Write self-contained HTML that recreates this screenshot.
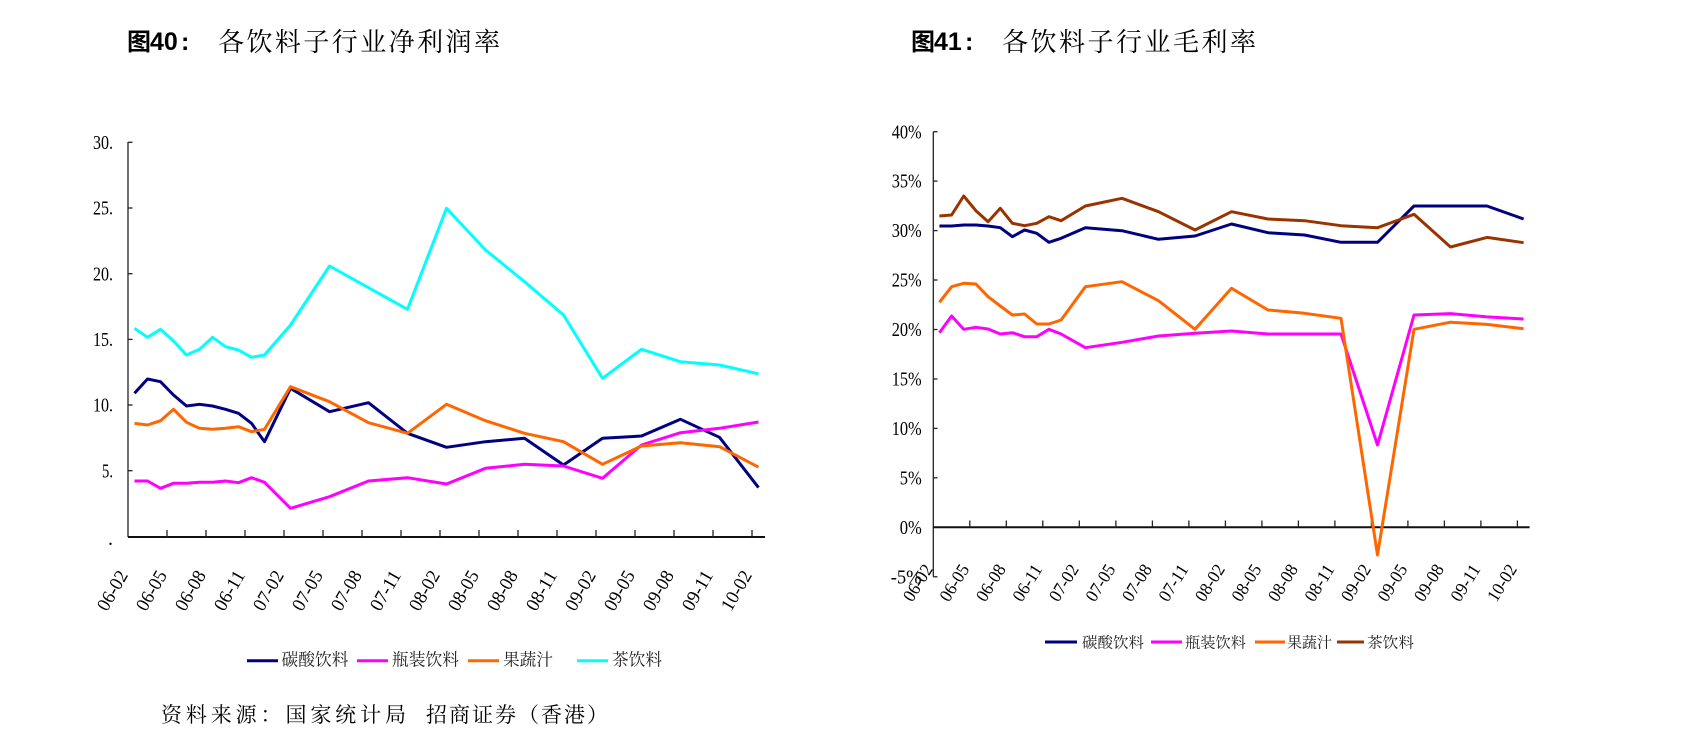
<!DOCTYPE html>
<html>
<head>
<meta charset="utf-8">
<style>
  html,body{margin:0;padding:0;background:#fff;}
  svg{display:block;}
  .ax{font-family:"Liberation Serif","Noto Serif CJK SC",serif;font-size:20px;fill:#000;}
  .xl{font-family:"Liberation Serif","Noto Serif CJK SC",serif;fill:#000;}
  .lg{font-family:"Liberation Serif","Noto Serif CJK SC",serif;fill:#222;}
</style>
</head>
<body>
<svg width="1684" height="748" viewBox="0 0 1684 748" xmlns="http://www.w3.org/2000/svg">
<rect x="0" y="0" width="1684" height="748" fill="#fff"/>

<!-- Titles -->
<text x="127" y="50" font-family="'Noto Sans CJK SC',sans-serif" font-weight="bold" font-size="24">图</text>
<text x="150" y="50" font-family="'Liberation Sans',sans-serif" font-weight="bold" font-size="25">40</text>
<text x="181" y="50" font-family="'Liberation Sans',sans-serif" font-weight="bold" font-size="25">:</text>
<text x="218" y="51" font-family="'Liberation Serif','Noto Serif CJK SC',serif" font-size="26" textLength="282" lengthAdjust="spacing">各饮料子行业净利润率</text>

<text x="911" y="50" font-family="'Noto Sans CJK SC',sans-serif" font-weight="bold" font-size="24">图</text>
<text x="934" y="50" font-family="'Liberation Sans',sans-serif" font-weight="bold" font-size="25">41</text>
<text x="965" y="50" font-family="'Liberation Sans',sans-serif" font-weight="bold" font-size="25">:</text>
<text x="1002" y="51" font-family="'Liberation Serif','Noto Serif CJK SC',serif" font-size="26" textLength="254" lengthAdjust="spacing">各饮料子行业毛利率</text>

<!-- ========== LEFT CHART ========== -->
<line x1="128" y1="142" x2="128" y2="537" stroke="#222" stroke-width="1.3"/>
<g stroke="#222" stroke-width="1.3">
  <line x1="128" y1="142.3" x2="132.5" y2="142.3"/>
  <line x1="128" y1="208" x2="132.5" y2="208"/>
  <line x1="128" y1="273.7" x2="132.5" y2="273.7"/>
  <line x1="128" y1="339.4" x2="132.5" y2="339.4"/>
  <line x1="128" y1="405" x2="132.5" y2="405"/>
  <line x1="128" y1="470.7" x2="132.5" y2="470.7"/>
</g>
<g class="ax" text-anchor="end">
  <text x="113" y="149" textLength="20" lengthAdjust="spacingAndGlyphs">30.</text>
  <text x="113" y="214.6" textLength="20" lengthAdjust="spacingAndGlyphs">25.</text>
  <text x="113" y="280.3" textLength="20" lengthAdjust="spacingAndGlyphs">20.</text>
  <text x="113" y="346" textLength="20" lengthAdjust="spacingAndGlyphs">15.</text>
  <text x="113" y="411.6" textLength="20" lengthAdjust="spacingAndGlyphs">10.</text>
  <text x="113" y="477.3" textLength="11" lengthAdjust="spacingAndGlyphs">5.</text>
  <text x="113" y="545">.</text>
</g>
<line x1="128" y1="537" x2="765" y2="537" stroke="#111" stroke-width="2"/>
<g stroke="#222" stroke-width="1.3">
  <line x1="167" y1="530" x2="167" y2="537"/><line x1="206" y1="530" x2="206" y2="537"/>
  <line x1="245" y1="530" x2="245" y2="537"/><line x1="284" y1="530" x2="284" y2="537"/>
  <line x1="323" y1="530" x2="323" y2="537"/><line x1="362" y1="530" x2="362" y2="537"/>
  <line x1="401" y1="530" x2="401" y2="537"/><line x1="440" y1="530" x2="440" y2="537"/>
  <line x1="479" y1="530" x2="479" y2="537"/><line x1="518" y1="530" x2="518" y2="537"/>
  <line x1="557" y1="530" x2="557" y2="537"/><line x1="596" y1="530" x2="596" y2="537"/>
  <line x1="635" y1="530" x2="635" y2="537"/><line x1="674" y1="530" x2="674" y2="537"/>
  <line x1="713" y1="530" x2="713" y2="537"/><line x1="752" y1="530" x2="752" y2="537"/>
</g>
<g class="xl" font-size="19" text-anchor="end">
  <text x="128.5" y="575" transform="rotate(-60 128.5 575)" textLength="43" lengthAdjust="spacingAndGlyphs">06-02</text>
  <text x="167.5" y="575" transform="rotate(-60 167.5 575)" textLength="43" lengthAdjust="spacingAndGlyphs">06-05</text>
  <text x="206.5" y="575" transform="rotate(-60 206.5 575)" textLength="43" lengthAdjust="spacingAndGlyphs">06-08</text>
  <text x="245.5" y="575" transform="rotate(-60 245.5 575)" textLength="43" lengthAdjust="spacingAndGlyphs">06-11</text>
  <text x="284.5" y="575" transform="rotate(-60 284.5 575)" textLength="43" lengthAdjust="spacingAndGlyphs">07-02</text>
  <text x="323.5" y="575" transform="rotate(-60 323.5 575)" textLength="43" lengthAdjust="spacingAndGlyphs">07-05</text>
  <text x="362.5" y="575" transform="rotate(-60 362.5 575)" textLength="43" lengthAdjust="spacingAndGlyphs">07-08</text>
  <text x="401.5" y="575" transform="rotate(-60 401.5 575)" textLength="43" lengthAdjust="spacingAndGlyphs">07-11</text>
  <text x="440.5" y="575" transform="rotate(-60 440.5 575)" textLength="43" lengthAdjust="spacingAndGlyphs">08-02</text>
  <text x="479.5" y="575" transform="rotate(-60 479.5 575)" textLength="43" lengthAdjust="spacingAndGlyphs">08-05</text>
  <text x="518.5" y="575" transform="rotate(-60 518.5 575)" textLength="43" lengthAdjust="spacingAndGlyphs">08-08</text>
  <text x="557.5" y="575" transform="rotate(-60 557.5 575)" textLength="43" lengthAdjust="spacingAndGlyphs">08-11</text>
  <text x="596.5" y="575" transform="rotate(-60 596.5 575)" textLength="43" lengthAdjust="spacingAndGlyphs">09-02</text>
  <text x="635.5" y="575" transform="rotate(-60 635.5 575)" textLength="43" lengthAdjust="spacingAndGlyphs">09-05</text>
  <text x="674.5" y="575" transform="rotate(-60 674.5 575)" textLength="43" lengthAdjust="spacingAndGlyphs">09-08</text>
  <text x="713.5" y="575" transform="rotate(-60 713.5 575)" textLength="43" lengthAdjust="spacingAndGlyphs">09-11</text>
  <text x="752.5" y="575" transform="rotate(-60 752.5 575)" textLength="43" lengthAdjust="spacingAndGlyphs">10-02</text>
</g>
<g fill="none" stroke-width="3" stroke-linejoin="round" stroke-linecap="butt">
  <polyline stroke="#000080" points="134.5,393.3 147.5,379 160.5,381.7 173.5,395 186.5,406 199.5,404.3 212.5,406 225.5,409.3 238.5,413.3 251.5,423.3 264.5,441.7 290.5,388.3 329.5,411.7 368.5,402.7 407.5,433.3 446.5,447.3 485.5,441.7 524.5,438.3 563.5,465 602.5,438.3 641.5,436 680.5,419.3 719.5,437.3 758.5,487.6"/>
  <polyline stroke="#FF00FF" points="134.5,481 147.5,481 160.5,488.3 173.5,483.3 186.5,483.3 199.5,482.3 212.5,482.3 225.5,481 238.5,482.7 251.5,477.7 264.5,482.3 290.5,508.3 329.5,496.7 368.5,481 407.5,477.7 446.5,484 485.5,468.3 524.5,464.3 563.5,466 602.5,478.3 641.5,445 680.5,432.7 719.5,428.3 758.5,422"/>
  <polyline stroke="#FF6600" points="134.5,423.3 147.5,425 160.5,420.7 173.5,409.3 186.5,422.3 199.5,428.3 212.5,429.3 225.5,428.3 238.5,426.7 251.5,431.7 264.5,429.3 290.5,386.7 329.5,401.7 368.5,422.7 407.5,433.3 446.5,404.3 485.5,420.7 524.5,433.3 563.5,441.7 602.5,464.3 641.5,446 680.5,442.7 719.5,446.7 758.5,467.2"/>
  <polyline stroke="#00FFFF" points="134.5,328.3 147.5,337.3 160.5,329.3 173.5,341 186.5,355 199.5,349.3 212.5,337.3 225.5,346.7 238.5,350 251.5,357.3 264.5,355 290.5,325 329.5,266 368.5,287.7 407.5,309.3 446.5,208.3 485.5,250 524.5,281.7 563.5,315 602.5,378.3 641.5,349.3 680.5,361.7 719.5,365 758.5,373.8"/>
</g>
<g stroke-width="3">
  <line x1="247" y1="660.7" x2="278" y2="660.7" stroke="#000080"/>
  <line x1="357" y1="660.7" x2="388" y2="660.7" stroke="#FF00FF"/>
  <line x1="468" y1="660.7" x2="499" y2="660.7" stroke="#FF6600"/>
  <line x1="577" y1="660.7" x2="608" y2="660.7" stroke="#00FFFF"/>
</g>
<g class="lg" font-size="17">
  <text x="281.5" y="665.5" textLength="67" lengthAdjust="spacingAndGlyphs">碳酸饮料</text>
  <text x="392" y="665.5" textLength="67" lengthAdjust="spacingAndGlyphs">瓶装饮料</text>
  <text x="503" y="665.5" textLength="50" lengthAdjust="spacingAndGlyphs">果蔬汁</text>
  <text x="612" y="665.5" textLength="50" lengthAdjust="spacingAndGlyphs">茶饮料</text>
</g>

<!-- source -->
<text x="161" y="722" font-family="'Liberation Serif','Noto Serif CJK SC',serif" font-size="21" fill="#000" textLength="245" lengthAdjust="spacing">资料来源：国家统计局</text>
<text x="426" y="722" font-family="'Liberation Serif','Noto Serif CJK SC',serif" font-size="21" fill="#000" textLength="182" lengthAdjust="spacing">招商证券（香港）</text>

<!-- ========== RIGHT CHART ========== -->
<line x1="933.3" y1="131.7" x2="933.3" y2="576.8" stroke="#222" stroke-width="1.3"/>
<g stroke="#222" stroke-width="1.3">
  <line x1="933.3" y1="131.7" x2="937.5" y2="131.7"/>
  <line x1="933.3" y1="181.1" x2="937.5" y2="181.1"/>
  <line x1="933.3" y1="230.6" x2="937.5" y2="230.6"/>
  <line x1="933.3" y1="280" x2="937.5" y2="280"/>
  <line x1="933.3" y1="329.5" x2="937.5" y2="329.5"/>
  <line x1="933.3" y1="379" x2="937.5" y2="379"/>
  <line x1="933.3" y1="428.4" x2="937.5" y2="428.4"/>
  <line x1="933.3" y1="477.8" x2="937.5" y2="477.8"/>
  <line x1="933.3" y1="576.8" x2="937.5" y2="576.8"/>
</g>
<g class="ax" text-anchor="end">
  <text x="921.7" y="138.3" textLength="30" lengthAdjust="spacingAndGlyphs">40%</text>
  <text x="921.7" y="187.7" textLength="30" lengthAdjust="spacingAndGlyphs">35%</text>
  <text x="921.7" y="237.2" textLength="30" lengthAdjust="spacingAndGlyphs">30%</text>
  <text x="921.7" y="286.6" textLength="30" lengthAdjust="spacingAndGlyphs">25%</text>
  <text x="921.7" y="336.1" textLength="30" lengthAdjust="spacingAndGlyphs">20%</text>
  <text x="921.7" y="385.6" textLength="30" lengthAdjust="spacingAndGlyphs">15%</text>
  <text x="921.7" y="435" textLength="30" lengthAdjust="spacingAndGlyphs">10%</text>
  <text x="921.7" y="484.4" textLength="22" lengthAdjust="spacingAndGlyphs">5%</text>
  <text x="921.7" y="533.9" textLength="22" lengthAdjust="spacingAndGlyphs">0%</text>
  <text x="921.7" y="583.4" textLength="31" lengthAdjust="spacingAndGlyphs">-5%</text>
</g>
<line x1="933.3" y1="527.3" x2="1529.6" y2="527.3" stroke="#111" stroke-width="2"/>
<g stroke="#222" stroke-width="1.3">
  <line x1="969.8" y1="520.5" x2="969.8" y2="527.3"/><line x1="1006.3" y1="520.5" x2="1006.3" y2="527.3"/>
  <line x1="1042.8" y1="520.5" x2="1042.8" y2="527.3"/><line x1="1079.3" y1="520.5" x2="1079.3" y2="527.3"/>
  <line x1="1115.9" y1="520.5" x2="1115.9" y2="527.3"/><line x1="1152.4" y1="520.5" x2="1152.4" y2="527.3"/>
  <line x1="1188.9" y1="520.5" x2="1188.9" y2="527.3"/><line x1="1225.4" y1="520.5" x2="1225.4" y2="527.3"/>
  <line x1="1261.9" y1="520.5" x2="1261.9" y2="527.3"/><line x1="1298.4" y1="520.5" x2="1298.4" y2="527.3"/>
  <line x1="1334.9" y1="520.5" x2="1334.9" y2="527.3"/><line x1="1371.4" y1="520.5" x2="1371.4" y2="527.3"/>
  <line x1="1407.9" y1="520.5" x2="1407.9" y2="527.3"/><line x1="1444.4" y1="520.5" x2="1444.4" y2="527.3"/>
  <line x1="1480.9" y1="520.5" x2="1480.9" y2="527.3"/><line x1="1517.4" y1="520.5" x2="1517.4" y2="527.3"/>
</g>
<g class="xl" font-size="18" text-anchor="end">
  <text x="933.4" y="569" transform="rotate(-58 933.4 569)" textLength="40" lengthAdjust="spacingAndGlyphs">06-02</text>
  <text x="969.9" y="569" transform="rotate(-58 969.9 569)" textLength="40" lengthAdjust="spacingAndGlyphs">06-05</text>
  <text x="1006.4" y="569" transform="rotate(-58 1006.4 569)" textLength="40" lengthAdjust="spacingAndGlyphs">06-08</text>
  <text x="1042.9" y="569" transform="rotate(-58 1042.9 569)" textLength="40" lengthAdjust="spacingAndGlyphs">06-11</text>
  <text x="1079.4" y="569" transform="rotate(-58 1079.4 569)" textLength="40" lengthAdjust="spacingAndGlyphs">07-02</text>
  <text x="1116" y="569" transform="rotate(-58 1116 569)" textLength="40" lengthAdjust="spacingAndGlyphs">07-05</text>
  <text x="1152.5" y="569" transform="rotate(-58 1152.5 569)" textLength="40" lengthAdjust="spacingAndGlyphs">07-08</text>
  <text x="1189" y="569" transform="rotate(-58 1189 569)" textLength="40" lengthAdjust="spacingAndGlyphs">07-11</text>
  <text x="1225.5" y="569" transform="rotate(-58 1225.5 569)" textLength="40" lengthAdjust="spacingAndGlyphs">08-02</text>
  <text x="1262" y="569" transform="rotate(-58 1262 569)" textLength="40" lengthAdjust="spacingAndGlyphs">08-05</text>
  <text x="1298.5" y="569" transform="rotate(-58 1298.5 569)" textLength="40" lengthAdjust="spacingAndGlyphs">08-08</text>
  <text x="1335" y="569" transform="rotate(-58 1335 569)" textLength="40" lengthAdjust="spacingAndGlyphs">08-11</text>
  <text x="1371.5" y="569" transform="rotate(-58 1371.5 569)" textLength="40" lengthAdjust="spacingAndGlyphs">09-02</text>
  <text x="1408" y="569" transform="rotate(-58 1408 569)" textLength="40" lengthAdjust="spacingAndGlyphs">09-05</text>
  <text x="1444.5" y="569" transform="rotate(-58 1444.5 569)" textLength="40" lengthAdjust="spacingAndGlyphs">09-08</text>
  <text x="1481" y="569" transform="rotate(-58 1481 569)" textLength="40" lengthAdjust="spacingAndGlyphs">09-11</text>
  <text x="1517.6" y="569" transform="rotate(-58 1517.6 569)" textLength="40" lengthAdjust="spacingAndGlyphs">10-02</text>
</g>
<g fill="none" stroke-width="3" stroke-linejoin="round" stroke-linecap="butt">
  <polyline stroke="#000080" points="939.4,226 951.6,226 963.7,225 975.9,225 988.1,226 1000.3,227.7 1012.4,236.7 1024.6,230 1036.8,233.3 1048.9,242.3 1061.1,238.3 1085.4,227.7 1122,230.7 1158.5,239.3 1195,236 1231.5,224 1268,232.7 1304.5,235 1341,242.3 1377.5,242.3 1414,206 1450.5,206 1487,206 1523.6,219"/>
  <polyline stroke="#FF00FF" points="939.4,332.7 951.6,316 963.7,329.3 975.9,327.3 988.1,329 1000.3,334 1012.4,332.7 1024.6,336.7 1036.8,336.7 1048.9,329.3 1061.1,334 1085.4,347.7 1122,342.3 1158.5,336 1195,333.3 1231.5,331 1268,334 1304.5,334 1341,334 1377.5,445 1414,315 1450.5,313.6 1487,316.9 1523.6,319"/>
  <polyline stroke="#FF6600" points="939.4,302.3 951.6,286.7 963.7,283.3 975.9,284 988.1,296.7 1000.3,306 1012.4,315 1024.6,314 1036.8,324 1048.9,324 1061.1,320 1085.4,286.7 1122,281.7 1158.5,300.7 1195,329.3 1231.5,288.3 1268,310 1304.5,313.3 1341,318.3 1377.5,555 1414,329.3 1450.5,322.2 1487,324.4 1523.6,328.7"/>
  <polyline stroke="#993300" points="939.4,216 951.6,215 963.7,196 975.9,210.7 988.1,221.7 1000.3,208.3 1012.4,223.3 1024.6,225.7 1036.8,223.3 1048.9,216.7 1061.1,220.7 1085.4,206 1122,198.3 1158.5,211.7 1195,230 1231.5,211.7 1268,219 1304.5,220.7 1341,225.7 1377.5,227.7 1414,214.3 1450.5,247 1487,237.4 1523.6,242.7"/>
</g>
<g stroke-width="3">
  <line x1="1045" y1="642" x2="1077" y2="642" stroke="#000080"/>
  <line x1="1151" y1="642" x2="1182" y2="642" stroke="#FF00FF"/>
  <line x1="1255" y1="642" x2="1285" y2="642" stroke="#FF6600"/>
  <line x1="1337" y1="642" x2="1364" y2="642" stroke="#993300"/>
</g>
<g class="lg" font-size="15">
  <text x="1082" y="647.5" textLength="62" lengthAdjust="spacingAndGlyphs">碳酸饮料</text>
  <text x="1185" y="647.5" textLength="61" lengthAdjust="spacingAndGlyphs">瓶装饮料</text>
  <text x="1287" y="647.5" textLength="45" lengthAdjust="spacingAndGlyphs">果蔬汁</text>
  <text x="1367" y="647.5" textLength="47" lengthAdjust="spacingAndGlyphs">茶饮料</text>
</g>
</svg>
</body>
</html>
